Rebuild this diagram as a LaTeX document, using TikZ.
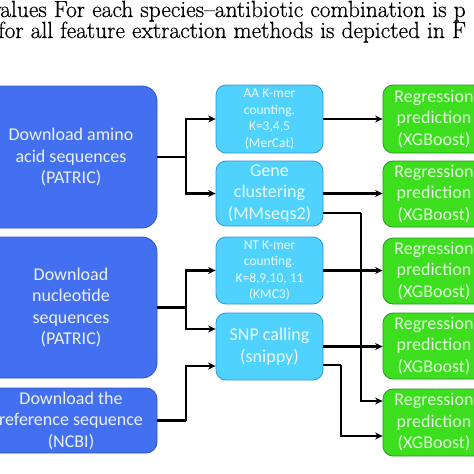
\documentclass[tikz,border=0pt]{standalone}
\usepackage{fontspec}
\newfontfamily\calib{Carlito}
\newfontfamily\topfont[FakeBold=0.6,Ligatures=TeX]{Latin Modern Roman}
\usetikzlibrary{arrows.meta}
\definecolor{dblue}{RGB}{66,112,240}
\definecolor{dblueline}{RGB}{48,84,196}
\definecolor{lblue}{RGB}{80,210,255}
\definecolor{lblueline}{RGB}{50,150,210}
\definecolor{lgreen}{RGB}{60,222,30}
\definecolor{lgreenline}{RGB}{40,150,30}
\tikzset{
  dbox/.style={draw=dblueline, fill=dblue, line width=0.8pt, rounded corners=15pt,
    minimum width=172pt, text=white!90!dblue, align=center, inner sep=0pt,
    font=\calib\fontsize{18}{21.5}\selectfont},
  lbox/.style={draw=lblueline, fill=lblue, line width=0.8pt, rounded corners=10pt,
    minimum width=107pt, text=white!88!lblue, align=center, inner sep=0pt,
    font=\calib\fontsize{18}{21.5}\selectfont},
  smalltext/.style={font=\calib\fontsize{13.5}{16.5}\selectfont},
  gbox/.style={draw=lgreenline, fill=lgreen, line width=0.8pt, rounded corners=10pt,
    minimum width=102pt, text=white!85!lgreen, align=center, inner sep=0pt,
    font=\calib\fontsize{18}{21.5}\selectfont},
  conn/.style={line width=2.9pt, black},
  arr/.style={conn, -{Stealth[length=7.5pt,width=7pt]}},
  toptext/.style={anchor=base west, inner sep=0pt, font=\topfont\fontsize{23.4}{23.4}\selectfont, text=black}
}
\begin{document}
\begin{tikzpicture}[x=1pt,y=-1pt]
\useasboundingbox (0,0) rectangle (474,474);
\fill[white] (0,0) rectangle (474,474);
% top text
\node[toptext] (t1) at (-10,17) {values For each species–antibiotic combination is p};
\node[toptext] (t2) at (-2,38) {for all feature extraction methods is depicted in F};
% left boxes
\node[dbox, minimum height=142pt] (d1) at (71,157) {Download amino\\acid sequences\\(PATRIC)};
\node[dbox, minimum height=141pt] (d2) at (71,307.5) {Download\\nucleotide\\sequences\\(PATRIC)};
\node[dbox, minimum height=65pt, rounded corners=11pt] (d3) at (71,420.5) {Download the\\reference sequence\\(NCBI)};
% middle boxes
\node[lbox, smalltext, minimum height=68pt] (l1) at (269.5,119) {AA K-mer\\counting.\\K=3,4,5\\(MerCat)};
\node[lbox, minimum height=65pt] (l2) at (269.5,193.5) {Gene\\clustering\\(MMseqs2)};
\node[lbox, smalltext, minimum height=67pt] (l3) at (269.5,270.5) {NT K-mer\\counting.\\K=8,9,10, 11\\(KMC3)};
\node[lbox, minimum height=67pt] (l4) at (269.5,346.5) {SNP calling\\(snippy)};
% right boxes
\node[gbox, minimum height=68pt] (g1) at (434,119) {Regression\\prediction\\(XGBoost)};
\node[gbox, minimum height=66pt] (g2) at (434,194) {Regression\\prediction\\(XGBoost)};
\node[gbox, minimum height=66pt] (g3) at (434,271) {Regression\\prediction\\(XGBoost)};
\node[gbox, minimum height=66pt] (g4) at (434,346) {Regression\\prediction\\(XGBoost)};
\node[gbox, minimum height=67pt] (g5) at (434,422.5) {Regression\\prediction\\(XGBoost)};
% junctions
\coordinate (b1) at (186,157);
\coordinate (b2) at (186,307.5);
\coordinate (b3) at (186,420.5);
\coordinate (v1) at (361,213);
\coordinate (v2) at (341,365);
% connectors
\draw[conn] (d1.east) -- (b1);
\draw[arr] (b1) |- (l1.west);
\draw[arr] (b1) |- (l2.west);
\draw[conn] (d2.east) -- (b2);
\draw[arr] (b2) |- (l3.west);
\draw[arr] (b2) |- ([yshift=17.5pt]l4.west);
\draw[conn] (d3.east) -- (b3);
\draw[arr] (b3) |- ([yshift=-19.5pt]l4.west);
\draw[arr] (l1.east) -- (g1.west);
\draw[arr] (l2.east) -- (l2.east -| g2.west);
\draw[arr] (l3.east) -- (l3.east -| g3.west);
\draw[arr] (l4.east) -- (l4.east -| g4.west);
\draw[conn] ([yshift=-19.5pt]l2.east) -- (v1);
\draw[arr] (v1) |- ([yshift=21.5pt]g5.west);
\draw[conn] ([yshift=-18.5pt]l4.east) -- (v2);
\draw[arr] (v2) |- ([yshift=-13.5pt]g5.west);
\end{tikzpicture}
\end{document}
